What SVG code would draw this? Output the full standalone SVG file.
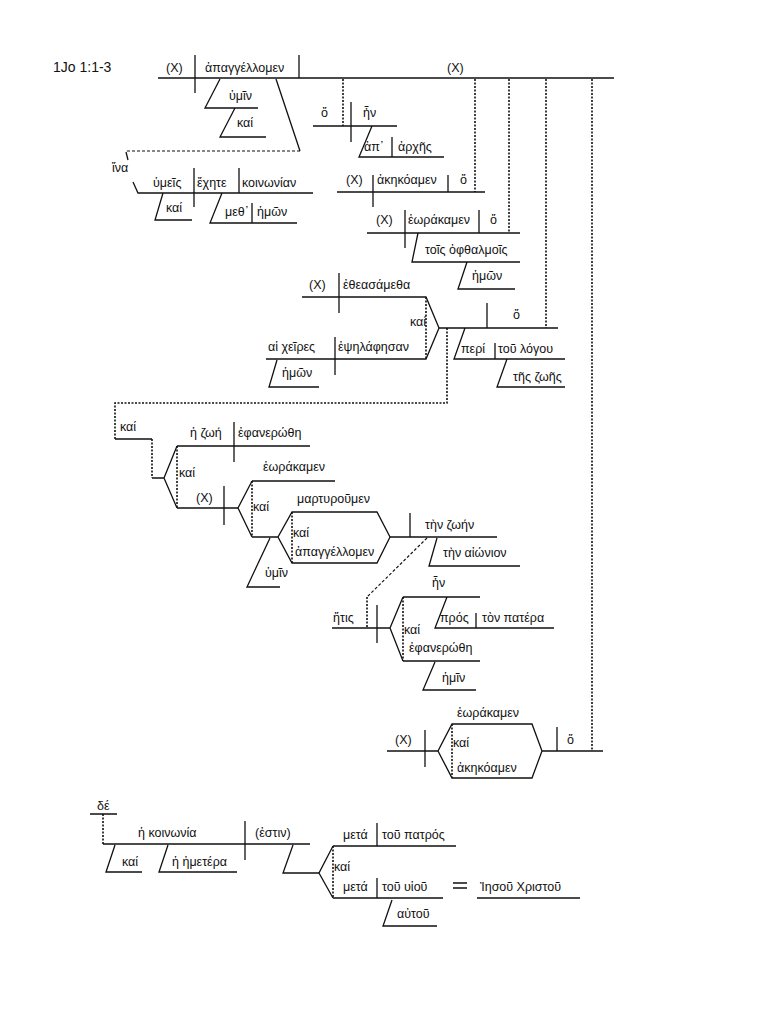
<svg xmlns="http://www.w3.org/2000/svg" width="768" height="1024" viewBox="0 0 768 1024">
<style>
text{font-family:"Liberation Sans","DejaVu Sans",sans-serif;font-size:12.5px;fill:#111}
.t{font-size:14px}
.s{fill:none;stroke:#111;stroke-width:1.3}
.d{fill:none;stroke:#111;stroke-width:1.6;stroke-dasharray:2 1.5}
.h{fill:none;stroke:#111;stroke-width:1.2;stroke-dasharray:3 2}
</style>
<rect width="768" height="1024" fill="#fff"/>
<text class="t" x="53" y="72">1Jo 1:1-3</text>
<g id="connectors">
<path class="d" d="M343,79V126M475,79V192M509,79V233M546,79V328M592,79V751"/>
<path class="h" d="M300,151H125"/>
<path class="d" d="M447,328V403H115V439M152,439V478"/>
<path class="d" d="M426,297V359M177,446V508M252,481V537M292,512V563M403,597V661M452,724V778M333,846V898M103,814V844"/>
<path class="h" d="M427,538L367,597"/>
<path class="d" d="M367,597V628"/>
</g>
<g id="main">
<path class="s" d="M158,78H614M195,55V93M299,55V78"/>
<text x="166" y="72">(X)</text>
<text x="205" y="72">ἀπαγγέλλομεν</text>
<text x="447" y="72">(X)</text>
<path class="s" d="M220,79L205,108H258M235,108L220,137H266M276,79L300,151"/>
<text x="229" y="100">ὑμῖν</text>
<text x="237" y="127">καί</text>
</g>
<g id="hina">
<path class="s" d="M126,152L128,160M133,182L138,193H313M194,168V207M239,168V193M163,193L155,220H192M222,193L210,223H297M252,203V223"/>
<text x="112" y="172">ἵνα</text>
<text x="153" y="187">ὑμεῖς</text>
<text x="197" y="187">ἔχητε</text>
<text x="242" y="187">κοινωνίαν</text>
<text x="166" y="212">καί</text>
<text x="225" y="216">μεθ᾽</text>
<text x="257" y="216">ἡμῶν</text>
</g>
<g id="ho-en">
<path class="s" d="M313,126H397M351,102V142M372,126L359,157H444M392,137V157"/>
<text x="321" y="117">ὅ</text>
<text x="363" y="117">ἦν</text>
<text x="364" y="151">ἀπ᾽</text>
<text x="398" y="151">ἀρχῆς</text>
</g>
<g id="akekoamen">
<path class="s" d="M337,192H485M373,175V207M448,175V192"/>
<text x="346" y="184">(X)</text>
<text x="377" y="184">ἀκηκόαμεν</text>
<text x="460" y="184">ὅ</text>
</g>
<g id="heorakamen">
<path class="s" d="M367,233H520M405,210V248M479,210V233M418,233L412,262H520M467,262L458,289H515"/>
<text x="376" y="224">(X)</text>
<text x="408" y="224">ἑωράκαμεν</text>
<text x="490" y="224">ὅ</text>
<text x="425" y="254">τοῖς ὀφθαλμοῖς</text>
<text x="472" y="280">ἡμῶν</text>
</g>
<g id="etheasametha">
<path class="s" d="M302,297H426L439,328L426,359H266M339,273V313M335,337V375M277,360L269,387H319"/>
<text x="309" y="289">(X)</text>
<text x="343" y="289">ἐθεασάμεθα</text>
<text x="410" y="326">καί</text>
<text x="268" y="351">αἱ χεῖρες</text>
<text x="338" y="351">ἐψηλάφησαν</text>
<text x="282" y="377">ἡμῶν</text>
</g>
<g id="peri-logou">
<path class="s" d="M439,328H558M487,303V328M465,328L454,359H565M495,343V359M507,359L497,387H565"/>
<text x="513" y="319">ὅ</text>
<text x="461" y="353">περί</text>
<text x="498" y="353">τοῦ λόγου</text>
<text x="513" y="381">τῆς ζωῆς</text>
</g>
<g id="zoe">
<path class="s" d="M115,439H152M152,478H164M177,446L164,478L177,508M177,446H310M234,422V462M177,508H238M224,486V525"/>
<text x="120" y="431">καί</text>
<text x="190" y="437">ἡ ζωή</text>
<text x="238" y="437">ἐφανερώθη</text>
<text x="179" y="477">καί</text>
<text x="196" y="502">(X)</text>
</g>
<g id="martyroumen">
<path class="s" d="M252,481L238,508L252,537M252,481H335M252,537H278M292,512H377L390,537L377,563H292L278,537ZM270,538L247,587H280"/>
<text x="263" y="471">ἑωράκαμεν</text>
<text x="253" y="511">καί</text>
<text x="297" y="503">μαρτυροῦμεν</text>
<text x="293" y="537">καί</text>
<text x="295" y="556">ἀπαγγέλλομεν</text>
<text x="265" y="577">ὑμῖν</text>
</g>
<g id="zoen">
<path class="s" d="M390,537H497M410,513V537M437,538L429,566H520"/>
<text x="425" y="529">τὴν ζωήν</text>
<text x="443" y="557">τὴν αἰώνιον</text>
</g>
<g id="hetis">
<path class="s" d="M332,628H390M377,605V643M403,597L390,628L403,661M403,597H480M447,597L435,628H554M476,613V628M403,661H480M435,662L423,690H476"/>
<text x="333" y="622">ἥτις</text>
<text x="432" y="587">ἦν</text>
<text x="440" y="622">πρός</text>
<text x="482" y="622">τὸν πατέρα</text>
<text x="404" y="634">καί</text>
<text x="409" y="652">ἐφανερώθη</text>
<text x="442" y="682">ἡμῖν</text>
</g>
<g id="last">
<path class="s" d="M387,751H438M425,730V767M452,724H532L542,751L532,778H452L438,751ZM542,751H603M557,727V751"/>
<text x="395" y="744">(X)</text>
<text x="457" y="717">ἑωράκαμεν</text>
<text x="453" y="747">καί</text>
<text x="457" y="772">ἀκηκόαμεν</text>
<text x="567" y="744">ὅ</text>
</g>
<g id="koinonia">
<path class="s" d="M90,814H117M103,844H310M245,821V860M115,845L106,872H142M168,845L159,872H237M293,845L283,873H319"/>
<text x="97" y="810">δέ</text>
<text x="138" y="837">ἡ κοινωνία</text>
<text x="255" y="837">(ἐστιν)</text>
<text x="122" y="866">καί</text>
<text x="172" y="866">ἡ ἡμετέρα</text>
</g>
<g id="meta">
<path class="s" d="M333,846L319,873L333,898M333,846H456M377,823V846M333,898H443M377,878V898M453,883H467M453,888H467M477,898H580M392,900L383,926H437"/>
<text x="343" y="839">μετά</text>
<text x="382" y="839">τοῦ πατρός</text>
<text x="334" y="871">καί</text>
<text x="343" y="891">μετά</text>
<text x="382" y="891">τοῦ υἱοῦ</text>
<text x="480" y="891">Ἰησοῦ Χριστοῦ</text>
<text x="397" y="918">αὐτοῦ</text>
</g>
</svg>
